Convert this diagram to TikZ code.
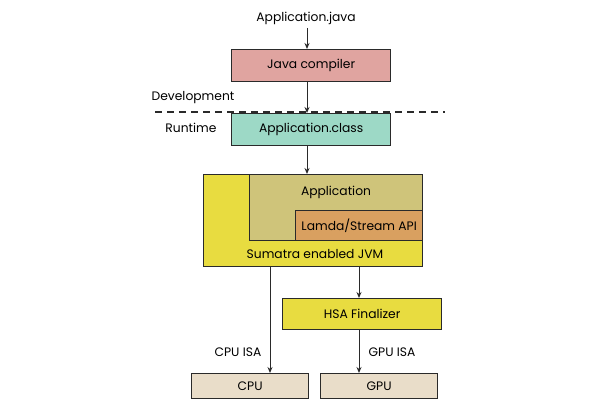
\documentclass[tikz,border=0pt]{standalone}
\usepackage{fontspec}
\setmainfont{Poppins}
\usetikzlibrary{arrows.meta}
\definecolor{pinkc}{HTML}{E0A4A0}
\definecolor{tealc}{HTML}{9DD9C6}
\definecolor{yelc}{HTML}{E8DC40}
\definecolor{khakic}{HTML}{CFC47A}
\definecolor{orangec}{HTML}{D9A060}
\definecolor{beigec}{HTML}{E9DDC9}
\definecolor{linec}{HTML}{2A2A2A}
\tikzset{
  box/.style={draw=linec, line width=1.3pt},
  lbl/.style={font=\fontsize{12.3}{14}\selectfont, text=black, inner sep=0pt},
  arr/.style={draw=linec, line width=1pt, -{Stealth[length=6pt,width=5pt]}},
}
\begin{document}
\begin{tikzpicture}[x=1pt,y=-1pt]
\useasboundingbox (0,0) rectangle (595,409);
% boxes
\node[box, fill=pinkc, minimum width=159pt, minimum height=32pt, anchor=north west] (jc) at (231,49) {};
\node[lbl] at (jc.center) {Java compiler};
\node[box, fill=tealc, minimum width=159pt, minimum height=32pt, anchor=north west] (ac) at (231,113) {};
\node[lbl] at (ac.center) {Application.class};
\node[box, fill=yelc, minimum width=219pt, minimum height=92pt, anchor=north west] (jvm) at (203,174) {};
\node[box, fill=khakic, minimum width=173pt, minimum height=66pt, anchor=north west] (app) at (249,174) {};
\node[box, fill=orangec, minimum width=127pt, minimum height=30pt, anchor=north west] (lam) at (295,210) {};
\node[lbl] at (336,192) {Application};
\node[lbl] at (lam.center) {Lamda/Stream API};
\node[lbl] at (315,254) {Sumatra enabled JVM};
\node[box, fill=yelc, minimum width=159pt, minimum height=31pt, anchor=north west] (hsa) at (282,298) {};
\node[lbl] at (hsa.center) {HSA Finalizer};
\node[box, fill=beigec, minimum width=117pt, minimum height=25pt, anchor=north west] (cpu) at (191,373) {};
\node[lbl] at (cpu.center) {CPU};
\node[box, fill=beigec, minimum width=117pt, minimum height=25pt, anchor=north west] (gpu) at (320,373) {};
\node[lbl] at (gpu.center) {GPU};
% texts
\node[lbl] (src) at (306,18) {Application.java};
\node[lbl] (dev) at (193,98) {Development};
\node[lbl] (rt) at (191,128) {Runtime};
\node[lbl] (cisa) at (238,352) {CPU ISA};
\node[lbl] (gisa) at (392,352) {GPU ISA};
% dashed separator
\coordinate (dl) at (155,112);
\coordinate (dr) at (445,112);
\draw[draw=linec, line width=1.1pt, dash pattern=on 7pt off 5pt] (dl) -- (dr);
% arrows
\draw[arr] (307,28) -- (jc.north -| 307,0);
\draw[arr] (jc.south -| 307,0) -- (ac.north -| 307,0);
\draw[arr] (ac.south -| 307,0) -- (jvm.north -| 307,0);
\draw[arr] (jvm.south -| 270,0) -- (cpu.north -| 270,0);
\draw[arr] (jvm.south -| 359,0) -- (hsa.north -| 359,0);
\draw[arr] (hsa.south -| 359,0) -- (gpu.north -| 359,0);
\end{tikzpicture}
\end{document}
